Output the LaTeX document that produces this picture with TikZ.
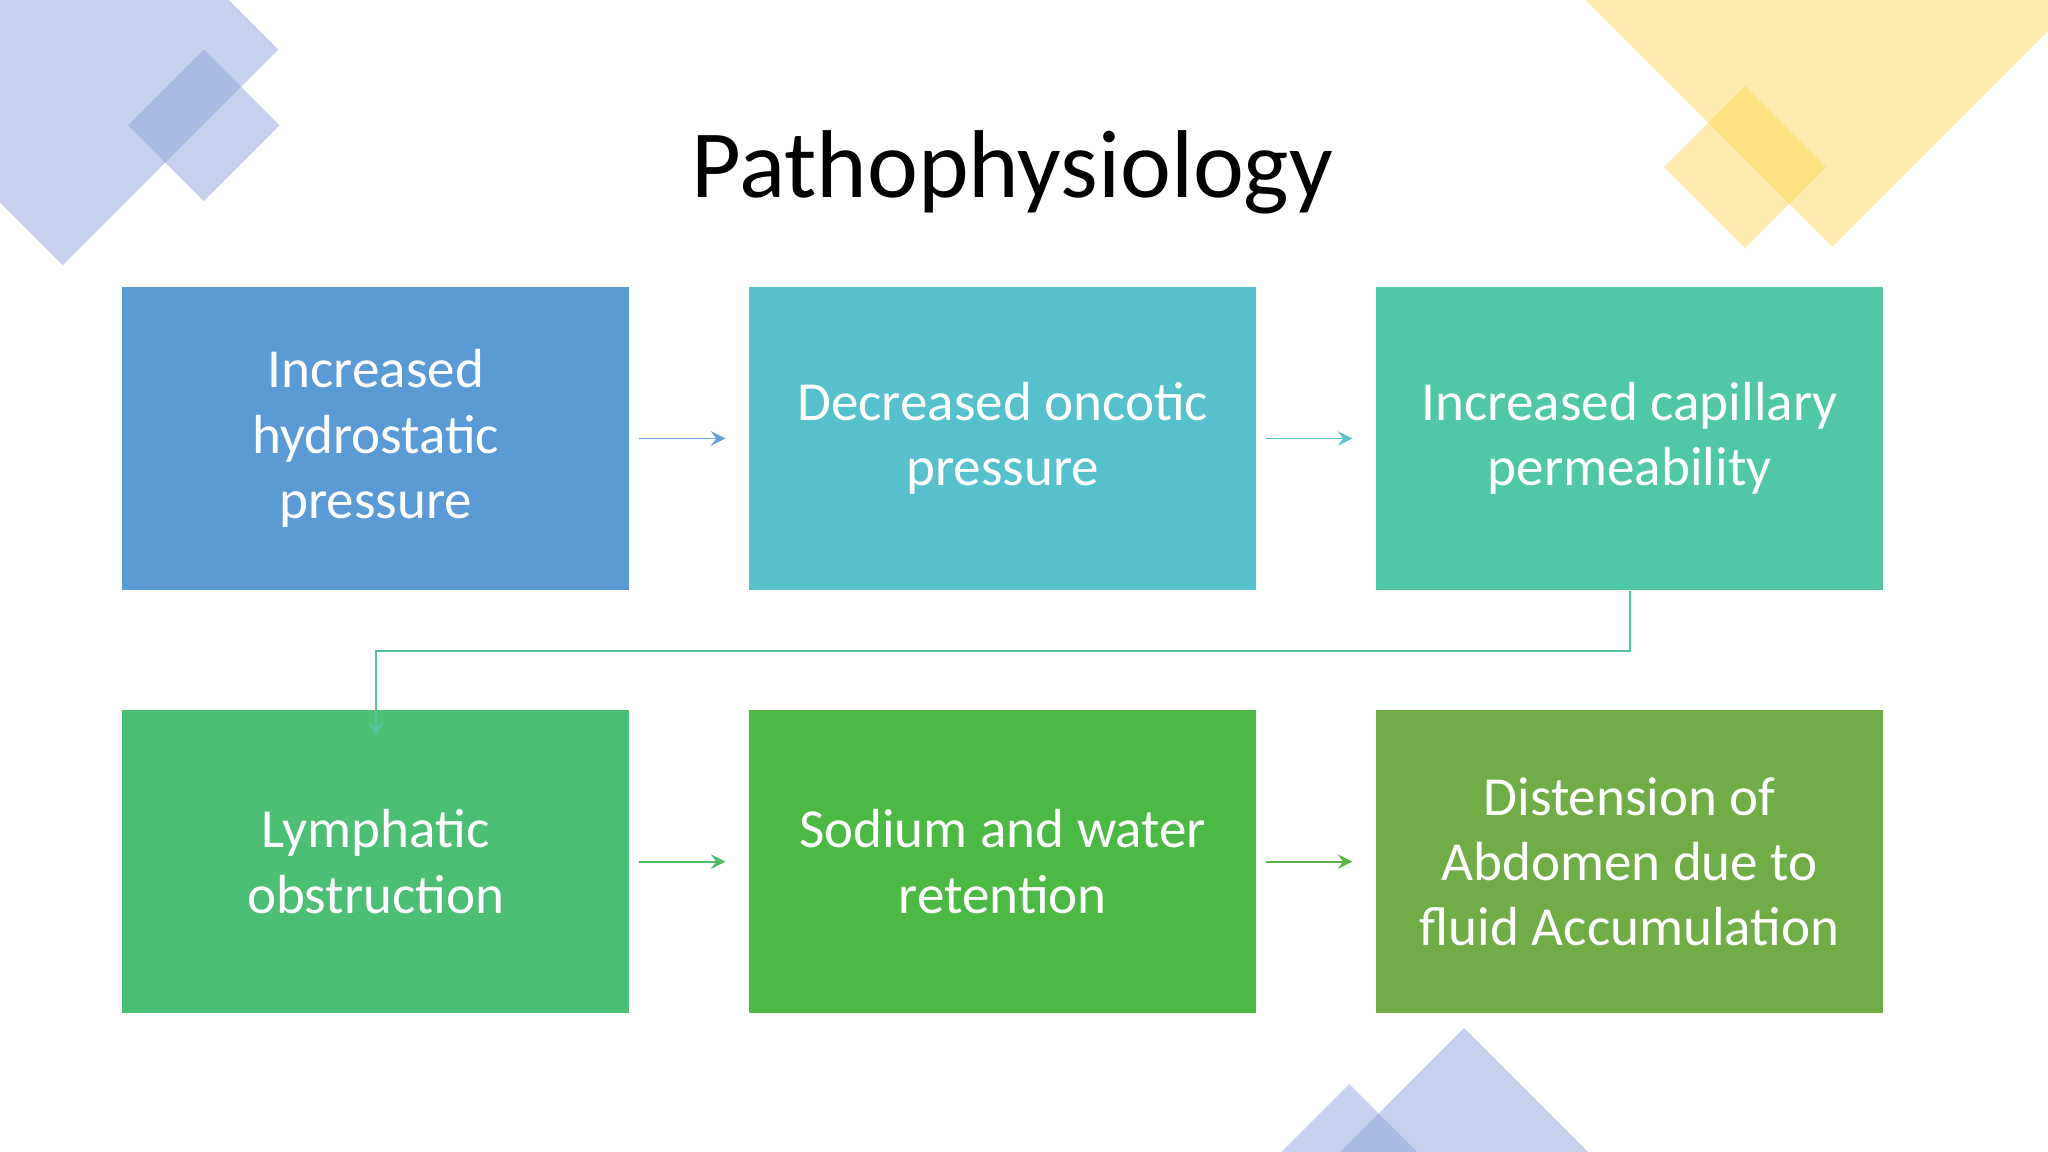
\documentclass[tikz,border=0pt]{standalone}
\usepackage{fontspec}
\setmainfont{Carlito}
\begin{document}
\begin{tikzpicture}[x=0.1mm,y=-0.1mm,
  box/.style={minimum width=38.8mm,minimum height=23.2mm,anchor=north west,text=white,align=center,font=\fontsize{12}{14.2}\selectfont,inner sep=0pt},
  arr/.style={->,line width=0.4pt,>=stealth}]
\useasboundingbox (0,0) rectangle (1568,882);
\fill[white] (0,0) rectangle (1568,882);
\begin{scope}
\clip (0,0) rectangle (1568,882);
\fill[fill={rgb,255:red,142;green,164;blue,220},opacity=0.5] (213,38)--(48,203)--(-117,38)--(48,-127)--cycle;
\fill[fill={rgb,255:red,142;green,164;blue,220},opacity=0.5] (214,96)--(156,154)--(98,96)--(156,38)--cycle;
\fill[fill={rgb,255:red,255;green,211;blue,79},opacity=0.45] (1617,-25)--(1403,189)--(1189,-25)--(1403,-239)--cycle;
\fill[fill={rgb,255:red,255;green,211;blue,79},opacity=0.45] (1398,128)--(1336,190)--(1274,128)--(1336,66)--cycle;
\fill[fill={rgb,255:red,142;green,164;blue,220},opacity=0.5] (1221,887)--(1121,987)--(1021,887)--(1121,787)--cycle;
\fill[fill={rgb,255:red,142;green,164;blue,220},opacity=0.5] (1088,885)--(1033,940)--(978,885)--(1033,830)--cycle;
\end{scope}
\node[font=\fontsize{21}{25}\selectfont] (title) at (775,132) {Pathophysiology};
\node[box,fill={rgb,255:red,91;green,155;blue,213}] (b1) at (93,219) {Increased\\hydrostatic\\pressure};
\node[box,fill={rgb,255:red,86;green,193;blue,205}] (b2) at (573,219) {Decreased oncotic\\pressure};
\node[box,fill={rgb,255:red,80;green,200;blue,168}] (b3) at (1053,219) {Increased capillary\\permeability};
\node[box,fill={rgb,255:red,77;green,191;blue,116}] (b4) at (93,543) {Lymphatic\\obstruction};
\node[box,fill={rgb,255:red,76;green,185;blue,68}] (b5) at (573,543) {Sodium and water\\retention};
\node[box,fill={rgb,255:red,112;green,173;blue,71}] (b6) at (1053,543) {Distension of\\Abdomen due to\\fluid Accumulation};
\draw[arr,draw={rgb,255:red,100;green,160;blue,215}] ([xshift=2]b1.east) -- ([xshift=-5]b2.west);
\draw[arr,draw={rgb,255:red,90;green,195;blue,200}] ([xshift=2]b2.east) -- ([xshift=-5]b3.west);
\draw[arr,draw={rgb,255:red,80;green,195;blue,160}] (b3.south) -- ++(0,46) -| ([yshift=-6]b4.north);
\draw[arr,draw={rgb,255:red,76;green,188;blue,100}] ([xshift=2]b4.east) -- ([xshift=-5]b5.west);
\draw[arr,draw={rgb,255:red,90;green,180;blue,70}] ([xshift=2]b5.east) -- ([xshift=-5]b6.west);
\end{tikzpicture}
\end{document}
